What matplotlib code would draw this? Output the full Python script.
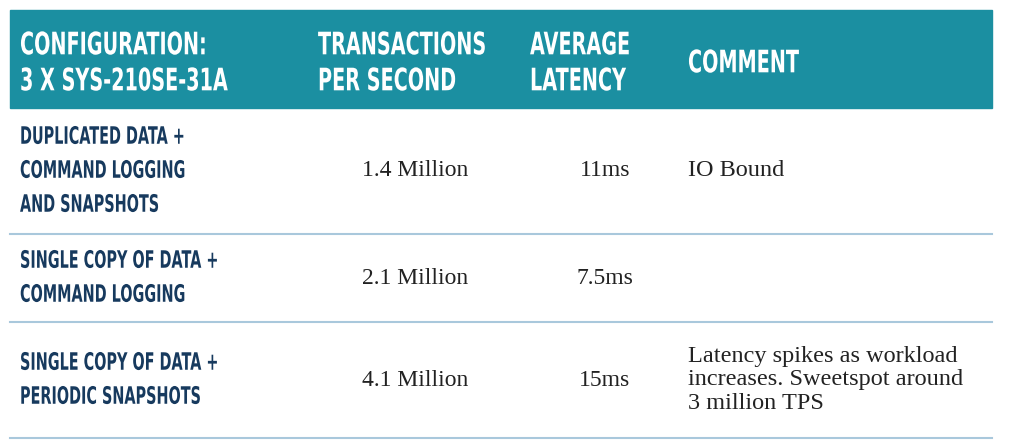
import matplotlib.pyplot as plt
from matplotlib.patches import Rectangle, PathPatch
from matplotlib.textpath import TextPath
from matplotlib.font_manager import FontProperties
from matplotlib.transforms import Affine2D

HEADERS = ["CONFIGURATION:\n3 X SYS-210SE-31A", "TRANSACTIONS\nPER SECOND", "AVERAGE\nLATENCY", "COMMENT"]
CONFIGS = [
    "DUPLICATED DATA +\nCOMMAND LOGGING\nAND SNAPSHOTS",
    "SINGLE COPY OF DATA +\nCOMMAND LOGGING",
    "SINGLE COPY OF DATA +\nPERIODIC SNAPSHOTS",
]
TPS = ["1.4 Million", "2.1 Million", "4.1 Million"]
LATENCY = ["11ms", "7.5ms", "15ms"]
COMMENTS = ["IO Bound", "", "Latency spikes as workload\nincreases. Sweetspot around\n3 million TPS"]

TEAL = "#1b8fa1"
NAVY = "#173a5e"
LINE = "#a9c8dc"
BODY_FONT = ["Liberation Serif", "DejaVu Serif"]
COND = FontProperties(family="DejaVu Sans", weight="bold")


def condensed(ax, x, y_center, text, size, spacing, color, squeeze=0.6):
    # draw condensed caps via scaled text paths (no narrow font installed)
    lines = text.split("\n")
    cap = size * 0.73
    first = y_center - (len(lines) - 1) * spacing / 2 + cap / 2
    for k, line in enumerate(lines):
        path = TextPath((0, 0), line, size=size, prop=COND)
        tr = Affine2D().scale(squeeze, -1).translate(x, first + k * spacing)
        ax.add_patch(PathPatch(tr.transform_path(path), color=color, lw=0))


fig = plt.figure(figsize=(10.24, 4.48), dpi=100)
ax = fig.add_axes([0, 0, 1, 1])
ax.set_xlim(0, 1024)
ax.set_ylim(448, 0)
ax.axis("off")

ax.add_patch(Rectangle((10, 10), 982, 98, color=TEAL))
head_x = [20, 318, 530, 688]
for x, h in zip(head_x, HEADERS):
    condensed(ax, x, 61, h, 31, 36, "white", squeeze=0.62)

row_edges = [108, 234, 322, 438]
for i in range(len(CONFIGS)):
    top, bot = row_edges[i], row_edges[i + 1]
    yc = (top + bot) / 2
    condensed(ax, 20, yc - 2, CONFIGS[i], 24, 34, NAVY, squeeze=0.6)
    ax.text(415, yc, TPS[i], color="#222222", fontsize=17, family=BODY_FONT,
            va="center", ha="center")
    ax.text(605, yc, LATENCY[i], color="#222222", fontsize=17, family=BODY_FONT,
            va="center", ha="center")
    ax.text(688, yc, COMMENTS[i], color="#222222", fontsize=17.5, family=BODY_FONT,
            va="center", ha="left", linespacing=1.15)
    ax.plot([10, 992], [bot, bot], color=LINE, linewidth=1.5)

fig.savefig("out.png", dpi=100, facecolor="white")
